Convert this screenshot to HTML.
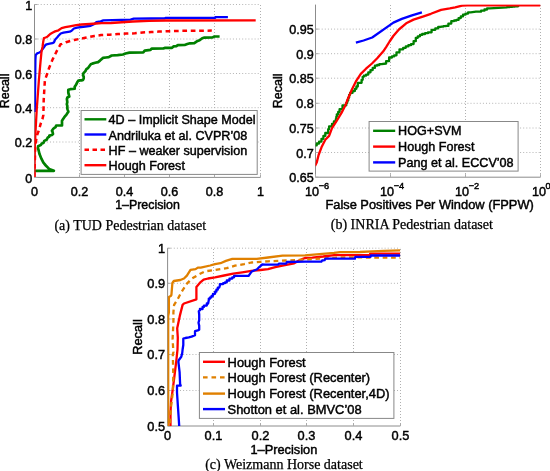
<!DOCTYPE html>
<html><head><meta charset="utf-8"><title>Precision-recall curves</title>
<style>html,body{margin:0;padding:0;background:#fff;width:550px;height:471px;overflow:hidden}svg{display:block}text{stroke:#000;stroke-width:0.45px;paint-order:stroke}</style>
</head><body>
<svg width="550" height="471" viewBox="0 0 550 471" font-family="Liberation Sans, Arial, sans-serif" fill="#000"><g><defs><clipPath id="clipA"><rect x="34.5" y="4.5" width="226.0" height="172.9"/></clipPath><clipPath id="clipB"><rect x="315.5" y="4.6" width="225.0" height="172.6"/></clipPath><clipPath id="clipC"><rect x="167.6" y="248.1" width="232.70000000000002" height="177.9"/></clipPath></defs><line x1="79.5" y1="5" x2="79.5" y2="177.4" stroke="#b0b0b0" stroke-width="1" stroke-dasharray="1 2"/>
<line x1="124.5" y1="5" x2="124.5" y2="177.4" stroke="#b0b0b0" stroke-width="1" stroke-dasharray="1 2"/>
<line x1="169.5" y1="5" x2="169.5" y2="177.4" stroke="#b0b0b0" stroke-width="1" stroke-dasharray="1 2"/>
<line x1="214.5" y1="5" x2="214.5" y2="177.4" stroke="#b0b0b0" stroke-width="1" stroke-dasharray="1 2"/>
<line x1="260.5" y1="5" x2="260.5" y2="177.4" stroke="#b0b0b0" stroke-width="1" stroke-dasharray="1 2"/>
<line x1="34.5" y1="142" x2="260.5" y2="142" stroke="#b4b4b4" stroke-width="1" stroke-dasharray="1 2.1"/>
<line x1="34.5" y1="107.7" x2="260.5" y2="107.7" stroke="#b4b4b4" stroke-width="1" stroke-dasharray="1 2.1"/>
<line x1="34.5" y1="73.5" x2="260.5" y2="73.5" stroke="#b4b4b4" stroke-width="1" stroke-dasharray="1 2.1"/>
<line x1="34.5" y1="39" x2="260.5" y2="39" stroke="#b4b4b4" stroke-width="1" stroke-dasharray="1 2.1"/>
<line x1="34.5" y1="4.5" x2="260.5" y2="4.5" stroke="#b4b4b4" stroke-width="1" stroke-dasharray="1 2.1"/>
<line x1="34.5" y1="4.5" x2="34.5" y2="177.4" stroke="#8c8c8c" stroke-width="1"/>
<line x1="34.5" y1="177.4" x2="260.5" y2="177.4" stroke="#8c8c8c" stroke-width="1"/>
<line x1="34.5" y1="177.4" x2="34.5" y2="174.4" stroke="#aaa" stroke-width="1"/>
<line x1="79.5" y1="177.4" x2="79.5" y2="174.4" stroke="#aaa" stroke-width="1"/>
<line x1="124.5" y1="177.4" x2="124.5" y2="174.4" stroke="#aaa" stroke-width="1"/>
<line x1="169.5" y1="177.4" x2="169.5" y2="174.4" stroke="#aaa" stroke-width="1"/>
<line x1="214.5" y1="177.4" x2="214.5" y2="174.4" stroke="#aaa" stroke-width="1"/>
<line x1="260.5" y1="177.4" x2="260.5" y2="174.4" stroke="#aaa" stroke-width="1"/>
<line x1="34.5" y1="177.4" x2="37.5" y2="177.4" stroke="#aaa" stroke-width="1"/>
<line x1="34.5" y1="142" x2="37.5" y2="142" stroke="#aaa" stroke-width="1"/>
<line x1="34.5" y1="107.7" x2="37.5" y2="107.7" stroke="#aaa" stroke-width="1"/>
<line x1="34.5" y1="73.5" x2="37.5" y2="73.5" stroke="#aaa" stroke-width="1"/>
<line x1="34.5" y1="39" x2="37.5" y2="39" stroke="#aaa" stroke-width="1"/>
<line x1="34.5" y1="4.5" x2="37.5" y2="4.5" stroke="#aaa" stroke-width="1"/>
<g clip-path="url(#clipA)">
<polyline points="34.5,170.8 53.9,170.8 49.1,168.9 45.8,165.5 43.4,162.7 41.5,158.9 39.5,154.1 38.6,150.3 38.1,148.8 38.1,146.2 40.8,145.1 41.8,143.5 43.4,143.0 44.3,140.9 46.6,139.8 47.7,137.7 49.3,136.6 49.3,135.6 51.9,135.0 53.0,134.0 52.5,131.8 51.9,130.8 53.0,129.2 54.0,128.1 55.6,127.1 56.2,125.5 59.4,125.5 62.0,125.5 62.0,122.8 62.0,120.7 63.1,119.1 64.1,117.5 65.2,115.9 66.3,114.9 67.3,113.3 68.4,111.7 67.8,110.1 67.3,108.5 67.3,105.8 66.8,104.2 67.3,102.1 66.9,99.0 67.4,97.5 69.3,96.5 68.8,94.6 68.3,92.6 68.3,89.7 70.3,89.2 72.7,89.0 74.7,88.7 74.7,86.8 75.7,85.3 76.6,83.8 77.1,82.4 78.1,80.9 79.6,80.4 81.5,80.4 83.0,79.9 83.7,78.5 83.7,76.5 83.0,75.5 83.3,73.6 84.0,72.6 85.4,71.1 86.4,69.2 87.9,68.2 89.3,66.3 90.8,64.3 92.3,63.6 95.2,62.8 98.1,62.1 100.0,60.6 102.9,57.9 105.9,57.5 108.8,57.2 111.7,55.5 117.6,55.2 123.0,54.5 125.5,53.5 129.4,52.6 143.3,52.3 144.7,50.6 150.5,49.9 151.6,48.6 163.3,48.5 164.7,47.9 172.0,47.8 173.5,46.4 176.4,46.2 177.8,45.2 184.7,45.0 187.3,44.0 190.0,43.3 194.3,43.1 196.9,41.3 199.6,40.3 202.2,38.3 203.9,37.7 212.6,37.4 214.4,36.5 219.6,36.5" fill="none" stroke="#008000" stroke-width="2.7" stroke-linejoin="round" />
<polyline points="34.8,112.0 35.4,60.0 35.7,55.1 37.1,53.4 38.8,52.7 40.8,51.7 42.2,49.7 43.9,47.3 45.2,45.3 46.6,44.3 49.7,43.6 52.4,43.2 54.1,42.2 54.7,40.5 55.4,39.2 57.1,37.5 58.5,35.8 60.7,33.5 63.5,32.6 69.8,31.7 71.6,30.8 73.9,28.5 77.1,27.6 85.3,26.5 90.7,25.8 94.4,24.0 96.2,22.2 100.7,21.3 103.3,20.4 130.5,19.6 133.8,18.7 151.3,18.5 164.8,18.3 165.9,17.8 215.4,17.8 215.4,17.2 227.9,17.2" fill="none" stroke="#0000ff" stroke-width="2.3" stroke-linejoin="round" />
<polyline points="34.4,177.0 35.3,145.0 36.3,139.3 37.1,135.0 38.7,130.8 40.8,123.4 42.4,119.1 43.4,115.0 43.7,100.0 44.9,80.0 47.2,73.8 49.1,68.0 52.4,59.9 57.1,50.4 60.5,44.3 62.0,43.9 66.0,42.2 74.4,39.9 85.3,37.8 94.4,36.0 101.1,35.1 109.8,34.7 118.0,34.1 126.2,33.6 134.9,33.3 142.5,32.5 151.3,32.0 158.9,31.6 179.1,30.9 211.8,30.6" fill="none" stroke="#ff0000" stroke-width="2.5" stroke-linejoin="round" stroke-dasharray="4.7 3.7" />
<polyline points="34.4,177.0 34.9,145.0 35.6,130.0 36.7,110.0 38.9,80.0 40.5,62.0 41.5,51.7 42.5,47.0 43.2,41.9 43.9,38.1 45.6,37.5 47.3,36.8 49.0,35.1 50.7,33.7 52.4,32.7 55.1,31.4 58.5,30.3 61.6,28.1 65.3,27.2 69.8,26.3 76.2,25.1 81.6,24.5 89.8,24.0 96.2,23.5 101.6,23.1 110.9,23.0 132.7,21.5 149.1,20.9 165.9,20.5 255.7,20.3" fill="none" stroke="#ff0000" stroke-width="2.3" stroke-linejoin="round" />
</g>
<text x="32.2" y="182.5" font-size="12.6" text-anchor="end" >0</text>
<text x="32.2" y="147.1" font-size="12.6" text-anchor="end" >0.2</text>
<text x="32.2" y="112.8" font-size="12.6" text-anchor="end" >0.4</text>
<text x="32.2" y="78.6" font-size="12.6" text-anchor="end" >0.6</text>
<text x="32.2" y="44.1" font-size="12.6" text-anchor="end" >0.8</text>
<text x="32.2" y="9.6" font-size="12.6" text-anchor="end" >1</text>
<text x="34.5" y="196.2" font-size="12.6" text-anchor="middle" >0</text>
<text x="79.5" y="196.2" font-size="12.6" text-anchor="middle" >0.2</text>
<text x="124.5" y="196.2" font-size="12.6" text-anchor="middle" >0.4</text>
<text x="169.5" y="196.2" font-size="12.6" text-anchor="middle" >0.6</text>
<text x="214.5" y="196.2" font-size="12.6" text-anchor="middle" >0.8</text>
<text x="260.5" y="196.2" font-size="12.6" text-anchor="middle" >1</text>
<text x="147.5" y="208.6" font-size="12.4" text-anchor="middle" >1–Precision</text>
<text x="8.6" y="91.0" font-size="12.5" text-anchor="middle" transform="rotate(-90 8.6 90.95)">Recall</text>
<rect x="81.1" y="110.5" width="176.1" height="63.9" fill="#fff" stroke="#888" stroke-width="1"/>
<line x1="84.5" y1="119.3" x2="106.3" y2="119.3" stroke="#008000" stroke-width="2.4"/>
<text x="108.6" y="124.4" font-size="12.6">4D – Implicit Shape Model</text>
<line x1="84.5" y1="134.5" x2="106.3" y2="134.5" stroke="#0000ff" stroke-width="2.4"/>
<text x="108.6" y="139.6" font-size="12.6">Andriluka et al. CVPR’08</text>
<line x1="84.5" y1="149.8" x2="106.3" y2="149.8" stroke="#ff0000" stroke-width="2.4" stroke-dasharray="4.5 3.5"/>
<text x="108.6" y="154.8" font-size="12.6">HF – weaker supervision</text>
<line x1="84.5" y1="165.2" x2="106.3" y2="165.2" stroke="#ff0000" stroke-width="2.4"/>
<text x="108.6" y="170.3" font-size="12.6">Hough Forest</text>
<text x="130.25" y="229.6" font-size="14" text-anchor="middle" font-family="Liberation Serif, serif" style="stroke-width:0.25px">(a) TUD Pedestrian dataset</text>
<line x1="390.5" y1="5" x2="390.5" y2="177.2" stroke="#b0b0b0" stroke-width="1" stroke-dasharray="1 2"/>
<line x1="465.5" y1="5" x2="465.5" y2="177.2" stroke="#b0b0b0" stroke-width="1" stroke-dasharray="1 2"/>
<line x1="540.5" y1="5" x2="540.5" y2="177.2" stroke="#b0b0b0" stroke-width="1" stroke-dasharray="1 2"/>
<line x1="315.5" y1="152.5" x2="540.5" y2="152.5" stroke="#b4b4b4" stroke-width="1" stroke-dasharray="1 2.1"/>
<line x1="315.5" y1="128" x2="540.5" y2="128" stroke="#b4b4b4" stroke-width="1" stroke-dasharray="1 2.1"/>
<line x1="315.5" y1="103.3" x2="540.5" y2="103.3" stroke="#b4b4b4" stroke-width="1" stroke-dasharray="1 2.1"/>
<line x1="315.5" y1="78.2" x2="540.5" y2="78.2" stroke="#b4b4b4" stroke-width="1" stroke-dasharray="1 2.1"/>
<line x1="315.5" y1="53.7" x2="540.5" y2="53.7" stroke="#b4b4b4" stroke-width="1" stroke-dasharray="1 2.1"/>
<line x1="315.5" y1="29.1" x2="540.5" y2="29.1" stroke="#b4b4b4" stroke-width="1" stroke-dasharray="1 2.1"/>
<line x1="315.5" y1="4.6" x2="315.5" y2="177.2" stroke="#8c8c8c" stroke-width="1"/>
<line x1="315.5" y1="177.2" x2="540.5" y2="177.2" stroke="#8c8c8c" stroke-width="1"/>
<line x1="315.5" y1="177.2" x2="315.5" y2="174.2" stroke="#aaa" stroke-width="1"/>
<line x1="390.5" y1="177.2" x2="390.5" y2="174.2" stroke="#aaa" stroke-width="1"/>
<line x1="465.5" y1="177.2" x2="465.5" y2="174.2" stroke="#aaa" stroke-width="1"/>
<line x1="540.5" y1="177.2" x2="540.5" y2="174.2" stroke="#aaa" stroke-width="1"/>
<line x1="315.5" y1="177.2" x2="318.5" y2="177.2" stroke="#aaa" stroke-width="1"/>
<line x1="315.5" y1="152.5" x2="318.5" y2="152.5" stroke="#aaa" stroke-width="1"/>
<line x1="315.5" y1="128" x2="318.5" y2="128" stroke="#aaa" stroke-width="1"/>
<line x1="315.5" y1="103.3" x2="318.5" y2="103.3" stroke="#aaa" stroke-width="1"/>
<line x1="315.5" y1="78.2" x2="318.5" y2="78.2" stroke="#aaa" stroke-width="1"/>
<line x1="315.5" y1="53.7" x2="318.5" y2="53.7" stroke="#aaa" stroke-width="1"/>
<line x1="315.5" y1="29.1" x2="318.5" y2="29.1" stroke="#aaa" stroke-width="1"/>
<g clip-path="url(#clipB)">
<polyline points="312.0,145.6 316.7,145.4 316.7,143.5 319.1,143.5 319.1,141.6 321.5,141.6 321.5,138.8 323.4,138.8 323.4,135.9 325.3,135.9 325.3,133.0 328.2,133.0 328.2,129.2 329.1,129.2 329.1,126.3 332.0,126.3 332.0,123.9 333.9,123.9 333.9,121.5 335.8,121.5 335.8,119.2 336.3,119.2 336.3,116.8 336.8,116.8 336.8,114.4 338.2,114.4 338.2,112.0 339.6,112.0 339.6,109.1 342.5,109.1 342.5,105.3 346.3,105.3 346.3,102.9 347.2,102.9 347.2,100.5 348.2,100.5 348.2,97.7 349.1,97.7 349.1,94.8 350.1,94.8 350.1,92.9 352.5,92.9 352.5,91.0 354.9,91.0 354.9,88.8 356.4,88.8 356.4,86.5 357.8,86.5 357.8,82.8 361.6,82.8 361.6,79.8 362.7,79.8 362.7,76.8 363.8,76.8 363.8,75.7 366.1,75.7 366.1,74.6 368.3,74.6 368.3,72.3 370.5,72.3 370.5,70.1 372.7,70.1 372.7,67.9 374.9,67.9 374.9,65.7 377.2,65.7 377.2,65.0 379.4,65.0 379.4,64.2 381.6,64.2 386.1,63.5 386.1,61.2 389.1,61.2 389.1,57.5 392.0,57.5 392.0,56.4 394.2,56.4 394.2,55.3 396.5,55.3 396.5,52.3 399.5,52.3 399.5,49.3 403.2,49.3 403.2,47.8 405.8,47.8 405.8,46.4 408.4,46.4 408.4,45.2 411.0,45.2 411.0,44.1 413.6,44.1 413.6,41.2 415.8,41.2 415.8,37.8 417.8,37.8 417.8,36.3 420.0,36.3 420.0,34.9 422.2,34.9 422.2,34.0 425.1,34.0 425.1,33.2 428.0,33.2 428.0,32.3 431.6,32.3 431.6,29.8 435.3,29.8 435.3,28.4 438.2,28.4 438.2,26.9 441.1,26.9 441.1,26.6 443.5,26.6 443.5,26.2 446.0,26.2 446.0,25.9 448.4,25.9 448.4,23.6 451.3,23.6 451.3,21.1 454.2,21.1 454.2,20.5 456.4,20.5 456.4,19.9 458.6,19.9 458.6,18.1 460.8,18.1 460.8,16.4 463.0,16.4 463.0,14.7 465.5,14.7 465.5,13.6 468.1,13.6 468.1,12.4 470.7,12.4 475.9,11.7 481.1,11.7 481.1,10.7 484.5,10.7 484.5,9.5 487.1,9.5 487.1,8.3 489.7,8.3 498.4,7.8 507.0,7.4 507.0,7.2 509.6,7.2 509.6,6.9 512.2,6.9 512.2,6.7 514.8,6.7 514.8,6.4 517.4,6.4 519.1,6.0" fill="none" stroke="#008000" stroke-width="2.3" stroke-linejoin="round" />
<polyline points="315.0,166.0 316.7,162.6 318.6,155.0 321.5,147.3 325.3,139.7 329.1,135.9 332.0,128.2 336.8,120.6 341.5,112.9 345.4,105.3 347.4,100.0 351.9,89.5 356.4,80.6 360.8,73.9 366.0,68.7 372.0,63.5 377.2,58.3 383.1,51.6 386.1,47.1 389.6,41.5 393.3,36.0 398.9,29.5 406.2,23.3 413.5,19.6 423.6,16.3 430.9,13.8 441.1,9.9 449.8,8.4 455.2,7.3 462.1,5.6 467.3,5.3 540.5,5.3" fill="none" stroke="#ff0000" stroke-width="2.3" stroke-linejoin="round" />
<polyline points="355.9,42.7 363.6,40.5 372.2,37.5 393.4,22.6 401.8,18.9 412.0,15.3 421.9,12.3" fill="none" stroke="#0000ff" stroke-width="2.3" stroke-linejoin="round" />
</g>
<text x="313.7" y="182.3" font-size="12.6" text-anchor="end" >0.65</text>
<text x="313.7" y="157.6" font-size="12.6" text-anchor="end" >0.7</text>
<text x="313.7" y="133.1" font-size="12.6" text-anchor="end" >0.75</text>
<text x="313.7" y="108.4" font-size="12.6" text-anchor="end" >0.8</text>
<text x="313.7" y="83.3" font-size="12.6" text-anchor="end" >0.85</text>
<text x="313.7" y="58.8" font-size="12.6" text-anchor="end" >0.9</text>
<text x="313.7" y="34.2" font-size="12.6" text-anchor="end" >0.95</text>
<text x="305.1" y="195.6" font-size="12.6">10<tspan x="318.7" y="189" font-size="9.2">−6</tspan></text>
<text x="380.1" y="195.6" font-size="12.6">10<tspan x="393.7" y="189" font-size="9.2">−4</tspan></text>
<text x="455.1" y="195.6" font-size="12.6">10<tspan x="468.7" y="189" font-size="9.2">−2</tspan></text>
<text x="532.0" y="195.6" font-size="12.6">10<tspan x="545.6" y="189" font-size="9.2">0</tspan></text>
<text x="429.6" y="208.7" font-size="12.85" text-anchor="middle" >False Positives Per Window (FPPW)</text>
<text x="282.2" y="90.9" font-size="12.5" text-anchor="middle" transform="rotate(-90 282.2 90.89999999999999)">Recall</text>
<rect x="369.1" y="121.5" width="149" height="49.6" fill="#fff" stroke="#888" stroke-width="1"/>
<line x1="373.1" y1="130.8" x2="395.2" y2="130.8" stroke="#008000" stroke-width="2.4"/>
<text x="398.1" y="135.3" font-size="12.6">HOG+SVM</text>
<line x1="373.1" y1="146.6" x2="395.2" y2="146.6" stroke="#ff0000" stroke-width="2.4"/>
<text x="398.1" y="151.4" font-size="12.6">Hough Forest</text>
<line x1="373.1" y1="162.4" x2="395.2" y2="162.4" stroke="#0000ff" stroke-width="2.4"/>
<text x="398.1" y="167.2" font-size="12.6">Pang et al. ECCV’08</text>
<text x="411.85" y="229.2" font-size="14" text-anchor="middle" font-family="Liberation Serif, serif" style="stroke-width:0.25px">(b) INRIA Pedestrian dataset</text>
<line x1="213.5" y1="249" x2="213.5" y2="426" stroke="#b0b0b0" stroke-width="1" stroke-dasharray="1 2"/>
<line x1="260.5" y1="249" x2="260.5" y2="426" stroke="#b0b0b0" stroke-width="1" stroke-dasharray="1 2"/>
<line x1="306.5" y1="249" x2="306.5" y2="426" stroke="#b0b0b0" stroke-width="1" stroke-dasharray="1 2"/>
<line x1="353.5" y1="249" x2="353.5" y2="426" stroke="#b0b0b0" stroke-width="1" stroke-dasharray="1 2"/>
<line x1="400.5" y1="249" x2="400.5" y2="426" stroke="#b0b0b0" stroke-width="1" stroke-dasharray="1 2"/>
<line x1="167.6" y1="390.5" x2="400.3" y2="390.5" stroke="#b4b4b4" stroke-width="1" stroke-dasharray="1 2.1"/>
<line x1="167.6" y1="354.5" x2="400.3" y2="354.5" stroke="#b4b4b4" stroke-width="1" stroke-dasharray="1 2.1"/>
<line x1="167.6" y1="319" x2="400.3" y2="319" stroke="#b4b4b4" stroke-width="1" stroke-dasharray="1 2.1"/>
<line x1="167.6" y1="283.3" x2="400.3" y2="283.3" stroke="#b4b4b4" stroke-width="1" stroke-dasharray="1 2.1"/>
<line x1="167.6" y1="248.2" x2="400.3" y2="248.2" stroke="#b4b4b4" stroke-width="1" stroke-dasharray="1 2.1"/>
<line x1="167.6" y1="248.1" x2="167.6" y2="426" stroke="#8c8c8c" stroke-width="1"/>
<line x1="167.6" y1="426" x2="400.3" y2="426" stroke="#8c8c8c" stroke-width="1"/>
<line x1="167.6" y1="426" x2="167.6" y2="423" stroke="#aaa" stroke-width="1"/>
<line x1="213.5" y1="426" x2="213.5" y2="423" stroke="#aaa" stroke-width="1"/>
<line x1="260.5" y1="426" x2="260.5" y2="423" stroke="#aaa" stroke-width="1"/>
<line x1="306.5" y1="426" x2="306.5" y2="423" stroke="#aaa" stroke-width="1"/>
<line x1="353.5" y1="426" x2="353.5" y2="423" stroke="#aaa" stroke-width="1"/>
<line x1="400.5" y1="426" x2="400.5" y2="423" stroke="#aaa" stroke-width="1"/>
<line x1="167.6" y1="426" x2="170.6" y2="426" stroke="#aaa" stroke-width="1"/>
<line x1="167.6" y1="390.5" x2="170.6" y2="390.5" stroke="#aaa" stroke-width="1"/>
<line x1="167.6" y1="354.5" x2="170.6" y2="354.5" stroke="#aaa" stroke-width="1"/>
<line x1="167.6" y1="319" x2="170.6" y2="319" stroke="#aaa" stroke-width="1"/>
<line x1="167.6" y1="283.3" x2="170.6" y2="283.3" stroke="#aaa" stroke-width="1"/>
<line x1="167.6" y1="248.2" x2="170.6" y2="248.2" stroke="#aaa" stroke-width="1"/>
<g clip-path="url(#clipC)">
<polyline points="170.5,426.0 170.5,412.9 171.1,401.0 172.8,389.1 174.5,375.5 176.2,361.9 177.5,349.5 177.8,337.6 177.2,328.3 179.8,315.9 182.6,304.9 184.0,303.5 196.4,299.3 196.4,286.9 200.6,282.1 203.6,279.6 208.0,278.5 215.0,277.3 224.1,275.5 233.2,273.6 242.3,272.3 251.4,270.9 260.5,270.0 268.0,269.1 275.3,267.1 282.5,265.6 287.6,264.6 294.2,263.3 298.5,260.7 302.9,258.9 305.0,258.0 312.3,257.6 323.2,256.5 334.1,255.1 345.0,255.1 369.8,255.1 370.2,253.6 400.3,253.6" fill="none" stroke="#ff0000" stroke-width="2.3" stroke-linejoin="round" />
<polyline points="169.9,426.0 170.2,418.0 171.1,406.1 172.8,392.5 173.3,375.5 172.8,354.3 173.4,352.5 172.6,339.1 173.4,322.7 173.4,312.3 174.1,304.9 177.8,298.9 181.8,291.5 186.9,283.6 192.0,278.5 199.3,274.2 205.1,271.3 215.0,270.0 226.8,268.2 235.0,265.7 244.1,264.1 251.4,262.5 260.5,261.8 268.0,261.3 298.2,260.0 321.1,258.6 340.0,257.4 400.3,257.6" fill="none" stroke="#e08000" stroke-width="2.3" stroke-linejoin="round" stroke-dasharray="4.7 3.7" stroke-dashoffset="-2.7"/>
<polyline points="168.2,426.0 168.2,316.0 168.9,312.3 168.9,297.0 170.7,296.0 171.4,295.0 172.4,283.0 173.8,281.0 180.4,280.0 184.0,278.5 186.9,275.6 190.5,269.8 195.6,269.1 197.8,267.6 200.7,267.6 210.2,265.5 215.0,264.1 220.5,263.2 225.9,260.9 232.3,258.8 256.8,258.8 268.0,257.5 282.5,255.6 305.0,255.4 319.5,254.1 334.1,252.9 340.0,252.2 360.0,252.0 372.0,251.4 384.0,250.8 400.3,250.4" fill="none" stroke="#e08000" stroke-width="2.3" stroke-linejoin="round" />
<polyline points="179.2,426.0 178.7,418.0 177.9,406.1 177.0,392.5 177.0,385.7 180.7,385.7 180.1,384.0 179.6,372.1 178.4,361.9 178.7,360.2 181.3,356.8 182.1,353.4 182.3,352.5 182.6,349.5 183.3,345.0 183.3,338.7 185.4,338.0 188.8,337.3 191.6,336.6 195.0,335.2 195.0,331.1 197.8,330.4 199.2,329.7 199.2,325.6 198.5,322.8 199.2,320.1 199.2,314.5 198.8,311.1 199.9,310.4 199.9,309.0 202.6,309.0 202.6,306.9 204.0,306.9 204.0,305.6 206.8,305.6 206.8,303.5 208.1,303.5 208.8,300.0 208.8,298.6 210.2,298.6 210.2,297.3 211.6,297.3 211.6,295.9 213.0,295.9 213.0,293.8 215.1,293.8 215.1,291.7 216.4,291.7 216.4,289.7 217.8,289.7 217.8,287.6 219.2,287.6 219.9,285.5 219.9,284.1 222.0,284.1 223.2,284.1 223.2,283.2 225.0,283.2 225.0,282.3 226.8,282.3 226.8,280.5 229.5,280.5 229.5,278.6 232.3,278.6 232.3,277.3 234.1,277.3 234.1,275.9 236.8,275.9 248.6,275.9 251.4,271.8 254.1,270.5 256.8,269.5 259.5,266.8 262.3,264.5 265.0,264.7 278.2,264.7 278.9,263.6 286.2,263.6 286.9,262.0 305.0,261.7 321.4,261.6 322.1,260.5 324.6,260.2 325.4,258.7 354.9,258.7 355.3,256.9 370.5,256.9 370.9,255.5 400.3,255.5" fill="none" stroke="#0000ff" stroke-width="2.3" stroke-linejoin="round" />
</g>
<text x="165.1" y="430.5" font-size="12.8" text-anchor="end" >0.5</text>
<text x="165.1" y="395.0" font-size="12.8" text-anchor="end" >0.6</text>
<text x="165.1" y="359.0" font-size="12.8" text-anchor="end" >0.7</text>
<text x="165.1" y="323.5" font-size="12.8" text-anchor="end" >0.8</text>
<text x="165.1" y="287.8" font-size="12.8" text-anchor="end" >0.9</text>
<text x="165.1" y="252.7" font-size="12.8" text-anchor="end" >1</text>
<text x="167.6" y="439.8" font-size="12.8" text-anchor="middle" >0</text>
<text x="213.5" y="439.8" font-size="12.8" text-anchor="middle" >0.1</text>
<text x="260.5" y="439.8" font-size="12.8" text-anchor="middle" >0.2</text>
<text x="306.5" y="439.8" font-size="12.8" text-anchor="middle" >0.3</text>
<text x="353.5" y="439.8" font-size="12.8" text-anchor="middle" >0.4</text>
<text x="400.5" y="439.8" font-size="12.8" text-anchor="middle" >0.5</text>
<text x="283.9" y="453.8" font-size="12.8" text-anchor="middle" >1–Precision</text>
<text x="142.3" y="337.1" font-size="12.8" text-anchor="middle" transform="rotate(-90 142.3 337.05)">Recall</text>
<rect x="199.4" y="352.5" width="194.5" height="65.9" fill="#fff" stroke="#888" stroke-width="1"/>
<line x1="203" y1="361.8" x2="225" y2="361.8" stroke="#ff0000" stroke-width="2.4"/>
<text x="227.6" y="366.5" font-size="12.9">Hough Forest</text>
<line x1="203" y1="377.4" x2="225" y2="377.4" stroke="#e08000" stroke-width="2.4" stroke-dasharray="4.6 3.9"/>
<text x="227.6" y="382.4" font-size="12.9">Hough Forest (Recenter)</text>
<line x1="203" y1="393.6" x2="225" y2="393.6" stroke="#e08000" stroke-width="2.4"/>
<text x="227.6" y="398.3" font-size="12.9">Hough Forest (Recenter,4D)</text>
<line x1="203" y1="409.1" x2="225" y2="409.1" stroke="#0000ff" stroke-width="2.4"/>
<text x="227.6" y="414.2" font-size="12.9">Shotton et al. BMVC’08</text>
<text x="283.95" y="468.9" font-size="14" text-anchor="middle" font-family="Liberation Serif, serif" style="stroke-width:0.25px">(c) Weizmann Horse dataset</text></g></svg>
</body></html>
